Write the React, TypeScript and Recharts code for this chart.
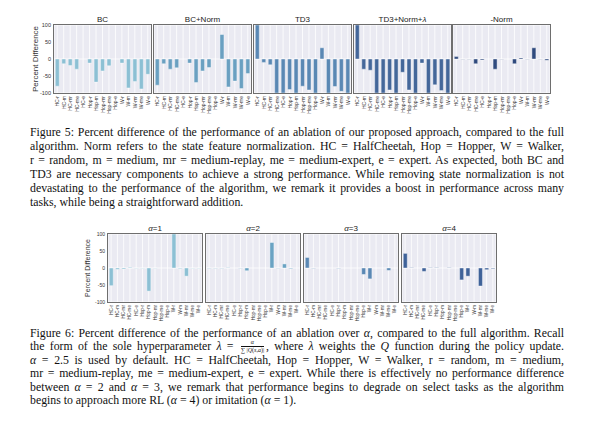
import React from "react";
import { BarChart, Bar, XAxis, YAxis, CartesianGrid } from "recharts";

// task labels shared by every panel
const CATEGORIES = [
  "HC-r", "HC-m", "HC-mr", "HC-me", "HC-e",
  "Hop-r", "Hop-m", "Hop-mr", "Hop-me", "Hop-e",
  "W-r", "W-m", "W-mr", "W-me", "W-e",
];

const Y_TICKS = [-100, -50, 0, 50, 100];

// Figure 5: ablations
const BC = [-80, -14, -19, -30, 0, -12, -68, -35, -20, 0, -12, -85, -66, -88, -45];
const BC_NORM = [-77, -14, -30, -26, 0, -12, -69, -35, -25, 0, 72, -82, -65, -87, -43];
const TD3 = [100, -10, -17, -100, -100, -90, -100, -80, -91, -100, 33, -100, -81, -95, -100];
const TD3_NORM_LAMBDA = [100, -30, -33, -100, -100, -91, -100, -39, -91, -100, -12, -100, -76, -93, -100];
const NO_NORM = [7, -1, -1, -14, -3, 0, -30, -1, 0, -14, 3, -1, 33, -1, -4];

// Figure 6: alpha sweep
const ALPHA_1 = [-52, -4, -3, 2, -1, -1, -68, -1, 0, 0, 100, -2, -24, -1, -1];
const ALPHA_2 = [-1, -1, -1, 1, 0, -1, -8, 0, 0, 0, 75, -1, 12, -2, 0];
const ALPHA_3 = [31, -1, 0, 0, 0, -1, 0, 0, 0, -19, -32, 0, 0, -7, 0];
const ALPHA_4 = [43, 1, 0, -10, 1, 1, 0, 1, 0, -35, -24, 0, -53, -5, -2];

const SANS = "'Liberation Sans', Arial, sans-serif";
const SERIF = "'Liberation Serif', 'Times New Roman', serif";

function CategoryTick(props: any) {
  const { x, y, payload, size } = props;
  return (
    <text
      x={x}
      y={y}
      transform={`rotate(-90 ${x} ${y})`}
      textAnchor="end"
      dominantBaseline="central"
      fontSize={size}
      fontFamily={SANS}
      fill="#333"
    >
      {payload.value}
    </text>
  );
}

interface PanelProps {
  values: number[];
  color: string;
  title: React.ReactNode;
  left: number;
  top: number;
  plotW: number;
  plotH: number;
  showY: boolean;
  yAxisW: number;
  labelOffset: number;
  tickSize: number;
  catSize: number;
  labelSize: number;
}

function Panel({
  values, color, title, left, top, plotW, plotH,
  showY, yAxisW, labelOffset, tickSize, catSize, labelSize,
}: PanelProps) {
  const data = CATEGORIES.map((name, i) => ({ name, value: values[i] }));
  const padTop = 4;
  const xAxisH = 30;
  const yw = showY ? yAxisW : 0;

  return (
    <>
      <div
        style={{
          position: "absolute", left, top: top - 11, width: plotW, height: 11,
          lineHeight: "11px", textAlign: "center", fontFamily: SANS,
          fontSize: 8, color: "#222",
        }}
      >
        {title}
      </div>
      <div style={{ position: "absolute", left: left - yw, top: top - padTop }}>
        <BarChart
          width={yw + plotW + 1}
          height={padTop + plotH + xAxisH}
          data={data}
          margin={{ top: padTop, right: 1, bottom: 0, left: 0 }}
          barCategoryGap="20%"
        >
          <CartesianGrid fill="#eaeaf2" stroke="#ffffff" strokeWidth={0.8} />
          <XAxis
            dataKey="name"
            interval={0}
            height={xAxisH}
            tickLine={false}
            axisLine={false}
            tickSize={2}
            tickMargin={1}
            tick={<CategoryTick size={catSize} />}
          />
          <YAxis
            hide={!showY}
            width={yw}
            domain={[-100, 100]}
            ticks={Y_TICKS}
            allowDataOverflow
            tickLine={false}
            axisLine={false}
            tickSize={2}
            tickMargin={1}
            tick={{ fontSize: tickSize, fill: "#333", fontFamily: SANS }}
            label={{
              value: "Percent Difference",
              angle: -90,
              position: "insideLeft",
              offset: labelOffset,
              style: { textAnchor: "middle", fontSize: labelSize, fill: "#333", fontFamily: SANS },
            }}
          />
          <Bar dataKey="value" fill={color} stroke="#ffffff" strokeWidth={0.4} isAnimationActive={false} />
        </BarChart>
      </div>
      <div
        style={{
          position: "absolute", left: left - 1, top: top - 1,
          width: plotW + 2, height: plotH + 2, boxSizing: "border-box",
          border: "1px solid #6e6e6e", pointerEvents: "none",
        }}
      />
    </>
  );
}

const lineStyle = (top: number, lh: number, last: boolean): React.CSSProperties => ({
  position: "absolute",
  left: 30,
  width: 534,
  top,
  height: lh,
  lineHeight: `${lh}px`,
  fontFamily: SERIF,
  fontSize: 11.8,
  color: "#111",
  textAlign: last ? "left" : "justify",
  textAlignLast: last ? "left" : "justify",
});

function Caption({ lines, top, lh }: { lines: React.ReactNode[]; top: number; lh: number }) {
  return (
    <>
      {lines.map((l, i) => (
        <div key={i} style={lineStyle(top + i * lh, lh, i === lines.length - 1)}>
          {l}
        </div>
      ))}
    </>
  );
}

// lambda = alpha / sum|Q(s,a)|
const Fraction = () => (
  <span
    style={{
      display: "inline-block", verticalAlign: "middle", textAlign: "center",
      textAlignLast: "center", fontSize: 6, lineHeight: "6px", margin: "0 2px",
      position: "relative", top: -1.5,
    }}
  >
    <span style={{ display: "block", borderBottom: "0.7px solid #111", paddingBottom: 0.5 }}><i>α</i></span>
    <span style={{ display: "block", paddingTop: 0.5 }}>∑ |<i>Q</i>(<i>s</i>,<i>a</i>)|</span>
  </span>
);

export default function App() {
  const top5 = [
    { values: BC, color: "#8cc0d4", title: "BC" },
    { values: BC_NORM, color: "#6aa0c1", title: "BC+Norm" },
    { values: TD3, color: "#5a88b4", title: "TD3" },
    { values: TD3_NORM_LAMBDA, color: "#44679a", title: <>TD3+Norm+<i>λ</i></> },
    { values: NO_NORM, color: "#2f4a7e", title: "-Norm" },
  ];
  const lefts5 = [54, 154, 254, 354, 453];

  const bottom6 = [
    { values: ALPHA_1, color: "#8cc0d4", title: <><i>α</i>=1</> },
    { values: ALPHA_2, color: "#6aa3c3", title: <><i>α</i>=2</> },
    { values: ALPHA_3, color: "#5a88b4", title: <><i>α</i>=3</> },
    { values: ALPHA_4, color: "#3f6299", title: <><i>α</i>=4</> },
  ];
  const lefts6 = [108, 206, 304, 402];

  return (
    <div style={{ position: "fixed", left: 0, top: 0, width: 600, height: 421, background: "#fff", overflow: "hidden" }}>
      {top5.map((p, i) => (
        <Panel
          key={i}
          values={p.values}
          color={p.color}
          title={p.title}
          left={lefts5[i]}
          top={25}
          plotW={97}
          plotH={68}
          showY={i === 0}
          yAxisW={24}
          labelOffset={5}
          tickSize={5.5}
          catSize={5}
          labelSize={8}
        />
      ))}
      {bottom6.map((p, i) => (
        <Panel
          key={i}
          values={p.values}
          color={p.color}
          title={p.title}
          left={lefts6[i]}
          top={234}
          plotW={94}
          plotH={68}
          showY={i === 0}
          yAxisW={26}
          labelOffset={6}
          tickSize={5}
          catSize={4.6}
          labelSize={7}
        />
      ))}

      <Caption
        top={125}
        lh={14}
        lines={[
          "Figure 5: Percent difference of the performance of an ablation of our proposed approach, compared to the full",
          "algorithm. Norm refers to the state feature normalization. HC = HalfCheetah, Hop = Hopper, W = Walker,",
          "r = random, m = medium, mr = medium-replay, me = medium-expert, e = expert. As expected, both BC and",
          "TD3 are necessary components to achieve a strong performance. While removing state normalization is not",
          "devastating to the performance of the algorithm, we remark it provides a boost in performance across many",
          "tasks, while being a straightforward addition.",
        ]}
      />
      <Caption
        top={327}
        lh={13.4}
        lines={[
          <>Figure 6: Percent difference of the performance of an ablation over <i>α</i>, compared to the full algorithm. Recall</>,
          <>the form of the sole hyperparameter <i>λ</i> = <Fraction />, where <i>λ</i> weights the <i>Q</i> function during the policy update.</>,
          <><i>α</i> = 2.5 is used by default. HC = HalfCheetah, Hop = Hopper, W = Walker, r = random, m = medium,</>,
          "mr = medium-replay, me = medium-expert, e = expert. While there is effectively no performance difference",
          <>between <i>α</i> = 2 and <i>α</i> = 3, we remark that performance begins to degrade on select tasks as the algorithm</>,
          <>begins to approach more RL (<i>α</i> = 4) or imitation (<i>α</i> = 1).</>,
        ]}
      />
    </div>
  );
}
